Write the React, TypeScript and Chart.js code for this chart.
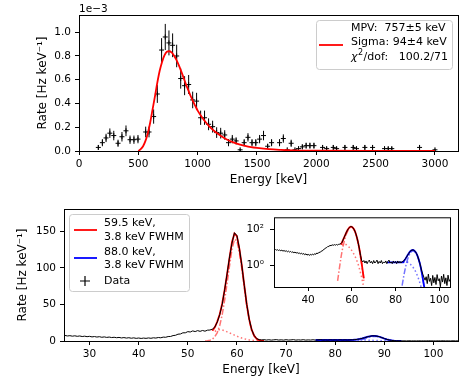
import React, { useEffect, useRef } from 'react';
import { Chart, registerables } from 'chart.js';

Chart.register(...registerables);

const FONT = 'DejaVu Sans';

// ---------- Top panel: Landau fit ----------
const topEnergy = [163, 197, 228, 260, 293, 329, 362, 396, 430, 463, 497, 562, 590, 629, 660, 696, 727, 758, 789, 823, 857, 890, 924, 958, 991, 1025, 1058, 1092, 1126, 1160, 1194, 1228, 1260, 1292, 1324, 1358, 1392, 1424, 1458, 1490, 1522, 1555, 1590, 1623, 1690, 1722, 1755, 1788, 1820, 1850, 1882, 1914, 1946, 1980, 2053, 2087, 2143, 2171, 2241, 2311, 2339, 2409, 2474, 2575, 2606, 2636, 2870, 3000];
const topRate = [0.03, 0.07, 0.11, 0.15, 0.13, 0.065, 0.12, 0.17, 0.095, 0.095, 0.1, 0.16, 0.16, 0.29, 0.48, 0.85, 0.96, 0.91, 0.89, 0.8, 0.61, 0.55, 0.56, 0.43, 0.42, 0.28, 0.28, 0.225, 0.205, 0.155, 0.15, 0.135, 0.07, 0.1, 0.085, 0.01, 0.07, 0.115, 0.07, 0.07, 0.1, 0.13, 0.04, 0.07, 0.07, 0.105, 0.01, 0.065, 0.01, 0.02, 0.035, 0.045, 0.045, 0.045, 0.03, 0.02, 0.03, 0.02, 0.03, 0.03, 0.02, 0.03, 0.03, 0.02, 0.02, 0.02, 0.03, 0.01];
const topErr = [0.02, 0.03, 0.035, 0.04, 0.04, 0.03, 0.04, 0.045, 0.035, 0.035, 0.035, 0.045, 0.045, 0.06, 0.075, 0.1, 0.11, 0.105, 0.1, 0.095, 0.085, 0.08, 0.08, 0.07, 0.07, 0.06, 0.06, 0.05, 0.05, 0.045, 0.045, 0.04, 0.03, 0.035, 0.03, 0.01, 0.03, 0.035, 0.03, 0.03, 0.035, 0.04, 0.02, 0.03, 0.03, 0.035, 0.01, 0.03, 0.01, 0.015, 0.02, 0.025, 0.025, 0.025, 0.02, 0.015, 0.02, 0.015, 0.02, 0.02, 0.015, 0.02, 0.02, 0.015, 0.015, 0.015, 0.02, 0.01];
const topFitEnergy = [500, 520, 540, 560, 580, 600, 620, 640, 660, 680, 700, 720, 740, 760, 780, 800, 820, 840, 860, 880, 900, 920, 940, 960, 980, 1000, 1050, 1100, 1150, 1200, 1250, 1300, 1350, 1400, 1450, 1500, 1600, 1700, 1800, 2000, 2500, 3000];
const topFitRate = [0, 0.015, 0.04, 0.085, 0.15, 0.24, 0.35, 0.46, 0.575, 0.675, 0.75, 0.805, 0.835, 0.84, 0.83, 0.805, 0.77, 0.725, 0.675, 0.62, 0.565, 0.515, 0.465, 0.42, 0.38, 0.34, 0.265, 0.205, 0.16, 0.125, 0.095, 0.073, 0.056, 0.043, 0.033, 0.026, 0.015, 0.009, 0.005, 0.002, 0, 0];
const topXTicks = [0, 500, 1000, 1500, 2000, 2500, 3000];
const topYTicks = [0, 0.2, 0.4, 0.6, 0.8, 1.0];
const topOffsetLabel = '1e\u22123';
const topLegendLines = ['MPV:  757\u00b15 keV', 'Sigma: 94\u00b14 keV', '/dof:   100.2/71'];
const topLegendChi = '\u03c7';
const topLegendChiSup = '2';

// ---------- Bottom panel: spectrum ----------
const botEnergy = [25, 25.5, 26, 26.5, 27, 27.5, 28, 28.5, 29, 29.5, 30, 30.5, 31, 31.5, 32, 32.5, 33, 33.5, 34, 34.5, 35, 35.5, 36, 36.5, 37, 37.5, 38, 38.5, 39, 39.5, 40, 40.5, 41, 41.5, 42, 42.5, 43, 43.5, 44, 44.5, 45, 45.5, 46, 46.5, 47, 47.5, 48, 48.5, 49, 49.5, 50, 50.5, 51, 51.5, 52, 52.5, 53, 53.5, 54, 54.5, 55, 55.5, 56, 56.5, 57, 57.5, 58, 58.5, 59, 59.5, 60, 60.5, 61, 61.5, 62, 62.5, 63, 63.5, 64, 64.5, 65, 65.5, 66, 66.5, 67, 67.5, 68, 68.5, 69, 69.5, 70, 70.5, 71, 71.5, 72, 72.5, 73, 73.5, 74, 74.5, 75, 75.5, 76, 76.5, 77, 77.5, 78, 78.5, 79, 79.5, 80, 80.5, 81, 81.5, 82, 82.5, 83, 83.5, 84, 84.5, 85, 85.5, 86, 86.5, 87, 87.5, 88, 88.5, 89, 89.5, 90, 90.5, 91, 91.5, 92, 92.5, 93, 93.5, 94, 94.5, 95, 95.5, 96, 96.5, 97, 97.5, 98, 98.5, 99, 99.5, 100, 100.5, 101, 101.5, 102, 102.5, 103, 103.5, 104, 104.5, 105];
const botRate = [
  7.6, 6.9, 7.3, 6.6, 7.1, 6.4, 6.9, 6.1, 6.6, 5.9,
  6.4, 5.6, 6.1, 5.4, 5.9, 5.1, 5.6, 4.9, 5.4, 4.7,
  5.1, 4.5, 4.9, 4.2, 4.7, 4.0, 4.5, 3.8, 4.3, 3.6,
  4.1, 3.5, 4.0, 3.6, 4.2, 3.7, 4.4, 4.0, 4.8, 4.4,
  5.3, 5.1, 6.1, 6.2, 7.4, 7.8, 9.3, 9.6, 11.2, 11.2,
  12.8, 12.3, 13.8, 12.9, 14.2, 13.2, 14.4, 13.4, 14.8, 15.0,
  16.2, 19, 26, 36, 50, 70, 92, 115, 134, 148,
  144, 127, 103, 76, 50, 30, 15.5, 7.6, 3.4, 1.8,
  1.5, 1.8, 1.3, 1.7, 1.2, 1.6, 1.9, 1.3, 1.6, 1.2,
  1.8, 1.3, 1.5, 1.9, 1.2, 1.6, 1.3, 1.8, 1.2, 1.5,
  1.3, 1.7, 1.2, 1.6, 1.9, 1.3, 1.5, 1.2, 1.7, 1.3,
  1.6, 1.2, 1.7, 1.3, 1.6, 1.3, 1.6, 1.6, 1.9, 2.3,
  2.8, 3.6, 4.4, 5.6, 6.3, 7.0, 7.1, 6.6, 5.9, 4.6,
  3.5, 2.2, 1.4, 0.8, 0.45, 0.3, 0.2, 0.14, 0.22, 0.09,
  0.31, 0.12, 0.18, 0.07, 0.26, 0.1, 0.2, 0.08, 0.29, 0.13,
  0.17, 0.06, 0.24, 0.11, 0.3, 0.09, 0.19, 0.07, 0.27, 0.12,
  0.16,
];
const redFitEnergy = [55, 55.5, 56, 56.5, 57, 57.5, 58, 58.5, 59, 59.5, 60, 60.5, 61, 61.5, 62, 62.5, 63, 63.5, 64, 64.5, 65, 65.5];
const redFitRate = [14, 18.8, 26.5, 36.5, 51, 70, 91.5, 114, 135.5, 147, 143.5, 126, 103, 76, 50, 29.5, 15.5, 7.4, 3.15, 1.25, 0.46, 0.18];
const redGaussEnergy = [53.5, 54, 54.5, 55, 55.5, 56, 56.5, 57, 57.5, 58, 58.5, 59, 59.5, 60, 60.5, 61, 61.5, 62, 62.5, 63, 63.5, 64, 64.5, 65, 65.5];
const redGaussRate = [0.13, 0.36, 0.95, 2.5, 5.8, 11.5, 21, 36, 56, 79, 103, 126, 139, 137, 121, 99, 73, 48, 28, 14.5, 6.8, 2.8, 1.05, 0.36, 0.13];
const redTailEnergy = [55.5, 56, 56.5, 57, 57.5, 58, 58.5, 59, 59.5, 60, 60.5, 61, 61.5, 62, 62.5, 63, 63.5, 64, 64.5, 65, 65.5];
const redTailRate = [13, 15, 15.5, 15, 14, 12.5, 11, 9.5, 8, 6.5, 5.2, 4, 3, 2.2, 1.5, 1.0, 0.6, 0.35, 0.2, 0.1, 0.05];
const blueFitEnergy = [76, 77, 78, 79, 80, 81, 82, 83, 83.5, 84, 84.5, 85, 85.5, 86, 86.5, 87, 87.5, 88, 88.5, 89, 89.5, 90, 90.5, 91, 91.5, 92, 92.5, 93, 93.5];
const blueFitRate = [1.4, 1.4, 1.4, 1.4, 1.4, 1.4, 1.4, 1.4, 1.46, 1.8, 2.2, 2.8, 3.55, 4.5, 5.5, 6.4, 6.95, 7.05, 6.65, 5.82, 4.65, 3.4, 2.27, 1.41, 0.77, 0.39, 0.16, 0.07, 0.03];
const blueGaussEnergy = [83, 83.5, 84, 84.5, 85, 85.5, 86, 86.5, 87, 87.5, 88, 88.5, 89, 89.5, 90, 90.5, 91, 91.5, 92, 92.5, 93];
const blueGaussRate = [0.07, 0.16, 0.35, 0.7, 1.3, 2.1, 3.15, 4.3, 5.35, 6.05, 6.3, 6.05, 5.35, 4.3, 3.15, 2.1, 1.3, 0.7, 0.35, 0.16, 0.07];
const blueTailEnergy = [83.5, 84, 84.5, 85, 85.5, 86, 86.5, 87, 87.5, 88, 88.5, 89, 89.5, 90, 90.5, 91, 91.5, 92];
const blueTailRate = [1.3, 1.45, 1.5, 1.5, 1.45, 1.35, 1.2, 1.05, 0.9, 0.75, 0.6, 0.47, 0.35, 0.25, 0.17, 0.11, 0.07, 0.04];
const botXTicks = [30, 40, 50, 60, 70, 80, 90, 100];
const botYTicks = [0, 50, 100, 150];
const insetXTicks = [40, 60, 80, 100];
const insetYTicks = [1, 100];
const insetYTickLabels = ['10\u2070', '10\u00b2'];
const legendPeak1 = ['59.5 keV,', '3.8 keV FWHM'];
const legendPeak2 = ['88.0 keV,', '3.8 keV FWHM'];
const legendData = 'Data';

const xLabel = 'Energy [keV]';
const yLabel = 'Rate [Hz keV\u207b\u00b9]';

const RED = '#ff0000';
const BLUE = '#0000ff';
const RED_SOFT = 'rgba(255,0,0,0.55)';
const BLUE_SOFT = 'rgba(0,0,255,0.55)';
const DOT = [1.5, 2.5];
const DASHDOT = [6, 2, 1.5, 2];

const tickFont = { family: FONT, size: 10.5 };
const labelFont = { family: FONT, size: 12 };

function pts(xs: number[], ys: number[]) {
  return xs.map((x, i) => ({ x, y: ys[i] }));
}

function grid() {
  return { drawOnChartArea: false, drawTicks: true, tickLength: 4, color: '#000', lineWidth: 1 };
}

function fixedTicks(values: number[]) {
  return (s: any) => { s.ticks = values.map((v) => ({ value: v })); };
}

const framePlugin = {
  id: 'frame',
  beforeDraw(chart: any, _args: any, opts: any) {
    if (opts && opts.fill) {
      const { ctx, chartArea: a } = chart;
      ctx.save();
      ctx.fillStyle = '#fff';
      ctx.fillRect(a.left, a.top, a.right - a.left, a.bottom - a.top);
      ctx.restore();
    }
  },
  afterDatasetsDraw(chart: any) {
    const { ctx, chartArea: a } = chart;
    ctx.save();
    ctx.strokeStyle = '#000';
    ctx.lineWidth = 1;
    ctx.strokeRect(a.left + 0.5, a.top + 0.5, a.right - a.left, a.bottom - a.top);
    ctx.restore();
  },
};

function legendBox(ctx: CanvasRenderingContext2D, x: number, y: number, w: number, h: number) {
  ctx.save();
  ctx.beginPath();
  if ((ctx as any).roundRect) (ctx as any).roundRect(x, y, w, h, 3);
  else ctx.rect(x, y, w, h);
  ctx.fillStyle = 'rgba(255,255,255,0.85)';
  ctx.fill();
  ctx.strokeStyle = '#cccccc';
  ctx.lineWidth = 1;
  ctx.stroke();
  ctx.restore();
}

function sampleLine(ctx: CanvasRenderingContext2D, x0: number, x1: number, y: number, color: string) {
  ctx.save();
  ctx.strokeStyle = color;
  ctx.lineWidth = 1.8;
  ctx.beginPath();
  ctx.moveTo(x0, y);
  ctx.lineTo(x1, y);
  ctx.stroke();
  ctx.restore();
}

const topExtras = {
  id: 'topExtras',
  afterDraw(chart: any) {
    const ctx: CanvasRenderingContext2D = chart.ctx;
    const a = chart.chartArea;
    ctx.save();
    ctx.fillStyle = '#000';
    ctx.font = `10.5px ${FONT}`;
    ctx.textAlign = 'left';
    ctx.textBaseline = 'alphabetic';
    ctx.fillText(topOffsetLabel, a.left, 12);
    legendBox(ctx, 316.5, 20.5, 136, 49);
    sampleLine(ctx, 319, 343, 45, RED);
    ctx.fillStyle = '#000';
    ctx.font = `11px ${FONT}`;
    ctx.textBaseline = 'middle';
    ctx.fillText(topLegendLines[0], 351, 28);
    ctx.fillText(topLegendLines[1], 351, 42);
    ctx.font = `italic 11px ${FONT}`;
    ctx.fillText(topLegendChi, 351, 57);
    const wChi = ctx.measureText(topLegendChi).width;
    ctx.font = `8px ${FONT}`;
    ctx.fillText(topLegendChiSup, 351 + wChi + 0.5, 53);
    const wSup = ctx.measureText(topLegendChiSup).width;
    ctx.font = `11px ${FONT}`;
    ctx.fillText(topLegendLines[2], 351 + wChi + wSup + 1, 57);
    ctx.restore();
  },
};

const bottomExtras = {
  id: 'bottomExtras',
  afterDraw(chart: any) {
    const ctx: CanvasRenderingContext2D = chart.ctx;
    ctx.save();
    legendBox(ctx, 69.5, 19.5, 120, 77);
    sampleLine(ctx, 74, 97, 35, RED);
    sampleLine(ctx, 74, 97, 63, BLUE);
    ctx.strokeStyle = '#000';
    ctx.lineWidth = 1.2;
    ctx.beginPath();
    ctx.moveTo(80, 86);
    ctx.lineTo(90, 86);
    ctx.moveTo(85, 81);
    ctx.lineTo(85, 91);
    ctx.stroke();
    ctx.fillStyle = '#000';
    ctx.font = `11px ${FONT}`;
    ctx.textAlign = 'left';
    ctx.textBaseline = 'middle';
    ctx.fillText(legendPeak1[0], 104, 28.5);
    ctx.fillText(legendPeak1[1], 104, 42);
    ctx.fillText(legendPeak2[0], 104, 57);
    ctx.fillText(legendPeak2[1], 104, 70);
    ctx.fillText(legendData, 104, 86);
    ctx.restore();
  },
};

function topConfig(): any {
  const errBars: any[] = [];
  topEnergy.forEach((e, i) => {
    errBars.push({ x: e, y: topRate[i] - topErr[i] }, { x: e, y: topRate[i] + topErr[i] }, { x: e, y: null });
  });
  return {
    type: 'line',
    data: {
      datasets: [
        { data: pts(topFitEnergy, topFitRate), borderColor: RED, borderWidth: 1.8, pointRadius: 0, cubicInterpolationMode: 'monotone', fill: false, order: 0 },
        { data: errBars, borderColor: '#000', borderWidth: 1, pointRadius: 0, spanGaps: false, fill: false, order: 1 },
        { data: pts(topEnergy, topRate), showLine: false, pointStyle: 'cross', pointRadius: 2.5, pointBorderWidth: 1, pointBorderColor: '#000', borderColor: '#000', order: 1 },
      ],
    },
    options: {
      responsive: false,
      animation: false,
      events: [],
      layout: { padding: { left: 0, right: 16, top: 15, bottom: 0 } },
      plugins: { legend: { display: false }, tooltip: { enabled: false }, frame: {} },
      scales: {
        x: {
          type: 'linear', min: 0, max: 3194,
          afterBuildTicks: fixedTicks(topXTicks),
          ticks: { autoSkip: false, maxRotation: 0, font: tickFont, color: '#000', padding: 3, callback: (v: any) => String(v) },
          grid: grid(), border: { display: false },
          title: { display: true, text: xLabel, font: labelFont, color: '#000', padding: { top: 0, bottom: 7.8 } },
          afterFit: (s: any) => { s.height = 44; },
        },
        y: {
          type: 'linear', min: 0, max: 1.145,
          afterBuildTicks: fixedTicks(topYTicks),
          ticks: { autoSkip: false, font: tickFont, color: '#000', padding: 4, callback: (v: any) => Number(v).toFixed(1) },
          grid: grid(), border: { display: false },
          title: { display: true, text: yLabel, font: labelFont, color: '#000', padding: { top: 35.8, bottom: 0 } },
          afterFit: (s: any) => { s.width = 79; },
        },
      },
    },
    plugins: [framePlugin, topExtras],
  };
}

function spectrumDatasets() {
  return [
    { data: pts(botEnergy, botRate), borderColor: '#000', borderWidth: 1, pointRadius: 0, fill: false, order: 0 },
    { data: pts(redFitEnergy, redFitRate), borderColor: RED, borderWidth: 1.8, pointRadius: 0, fill: false, order: 1 },
    { data: pts(blueFitEnergy, blueFitRate), borderColor: BLUE, borderWidth: 1.8, pointRadius: 0, fill: false, order: 1 },
    { data: pts(redGaussEnergy, redGaussRate), borderColor: RED_SOFT, borderWidth: 1.5, borderDash: DASHDOT, pointRadius: 0, fill: false, order: 2 },
    { data: pts(redTailEnergy, redTailRate), borderColor: RED_SOFT, borderWidth: 1.5, borderDash: DOT, pointRadius: 0, fill: false, order: 2 },
    { data: pts(blueGaussEnergy, blueGaussRate), borderColor: BLUE_SOFT, borderWidth: 1.5, borderDash: DASHDOT, pointRadius: 0, fill: false, order: 2 },
    { data: pts(blueTailEnergy, blueTailRate), borderColor: BLUE_SOFT, borderWidth: 1.5, borderDash: DOT, pointRadius: 0, fill: false, order: 2 },
  ];
}

function bottomConfig(): any {
  return {
    type: 'line',
    data: { datasets: spectrumDatasets() },
    options: {
      responsive: false,
      animation: false,
      events: [],
      layout: { padding: { left: 0, right: 16, top: 14, bottom: 0 } },
      plugins: { legend: { display: false }, tooltip: { enabled: false }, frame: {} },
      scales: {
        x: {
          type: 'linear', min: 24.8, max: 105,
          afterBuildTicks: fixedTicks(botXTicks),
          ticks: { autoSkip: false, maxRotation: 0, font: tickFont, color: '#000', padding: 3, callback: (v: any) => String(v) },
          grid: grid(), border: { display: false },
          title: { display: true, text: xLabel, font: labelFont, color: '#000', padding: { top: 0, bottom: 9.8 } },
          afterFit: (s: any) => { s.height = 46; },
        },
        y: {
          type: 'linear', min: 0, max: 180.5,
          afterBuildTicks: fixedTicks(botYTicks),
          ticks: { autoSkip: false, font: tickFont, color: '#000', padding: 4, callback: (v: any) => String(v) },
          grid: grid(), border: { display: false },
          title: { display: true, text: yLabel, font: labelFont, color: '#000', padding: { top: 15.8, bottom: 0 } },
          afterFit: (s: any) => { s.width = 64; },
        },
      },
    },
    plugins: [framePlugin, bottomExtras],
  };
}

function insetConfig(): any {
  return {
    type: 'line',
    data: { datasets: spectrumDatasets() },
    options: {
      responsive: false,
      animation: false,
      events: [],
      layout: { padding: { left: 0, right: 8, top: 12, bottom: 0 } },
      plugins: { legend: { display: false }, tooltip: { enabled: false }, frame: { fill: true } },
      scales: {
        x: {
          type: 'linear', min: 24.4, max: 104.9,
          afterBuildTicks: fixedTicks(insetXTicks),
          ticks: { autoSkip: false, maxRotation: 0, font: tickFont, color: '#000', padding: 3, callback: (v: any) => String(v) },
          grid: grid(), border: { display: false },
          afterFit: (s: any) => { s.height = 23; },
        },
        y: {
          type: 'logarithmic', min: 0.058, max: 490,
          afterBuildTicks: fixedTicks(insetYTicks),
          ticks: { autoSkip: false, font: tickFont, color: '#000', padding: 6, callback: (v: any) => insetYTickLabels[insetYTicks.indexOf(Number(v))] ?? '' },
          grid: grid(), border: { display: false },
          afterFit: (s: any) => { s.width = 44; },
        },
      },
    },
    plugins: [framePlugin],
  };
}

export default function App() {
  const topRef = useRef<HTMLCanvasElement>(null);
  const botRef = useRef<HTMLCanvasElement>(null);
  const insRef = useRef<HTMLCanvasElement>(null);

  useEffect(() => {
    document.body.style.margin = '0';
    Chart.defaults.font.family = FONT;
    const charts = [
      new Chart(topRef.current as HTMLCanvasElement, topConfig()),
      new Chart(botRef.current as HTMLCanvasElement, bottomConfig()),
      new Chart(insRef.current as HTMLCanvasElement, insetConfig()),
    ];
    return () => charts.forEach((c) => c.destroy());
  }, []);

  return (
    <div style={{ position: 'relative', width: 474, height: 387, background: '#fff', overflow: 'hidden' }}>
      <canvas ref={topRef} width={474} height={195} style={{ position: 'absolute', left: 0, top: 0 }} />
      <canvas ref={botRef} width={474} height={192} style={{ position: 'absolute', left: 0, top: 195 }} />
      <canvas ref={insRef} width={228} height={105} style={{ position: 'absolute', left: 230, top: 205 }} />
    </div>
  );
}
